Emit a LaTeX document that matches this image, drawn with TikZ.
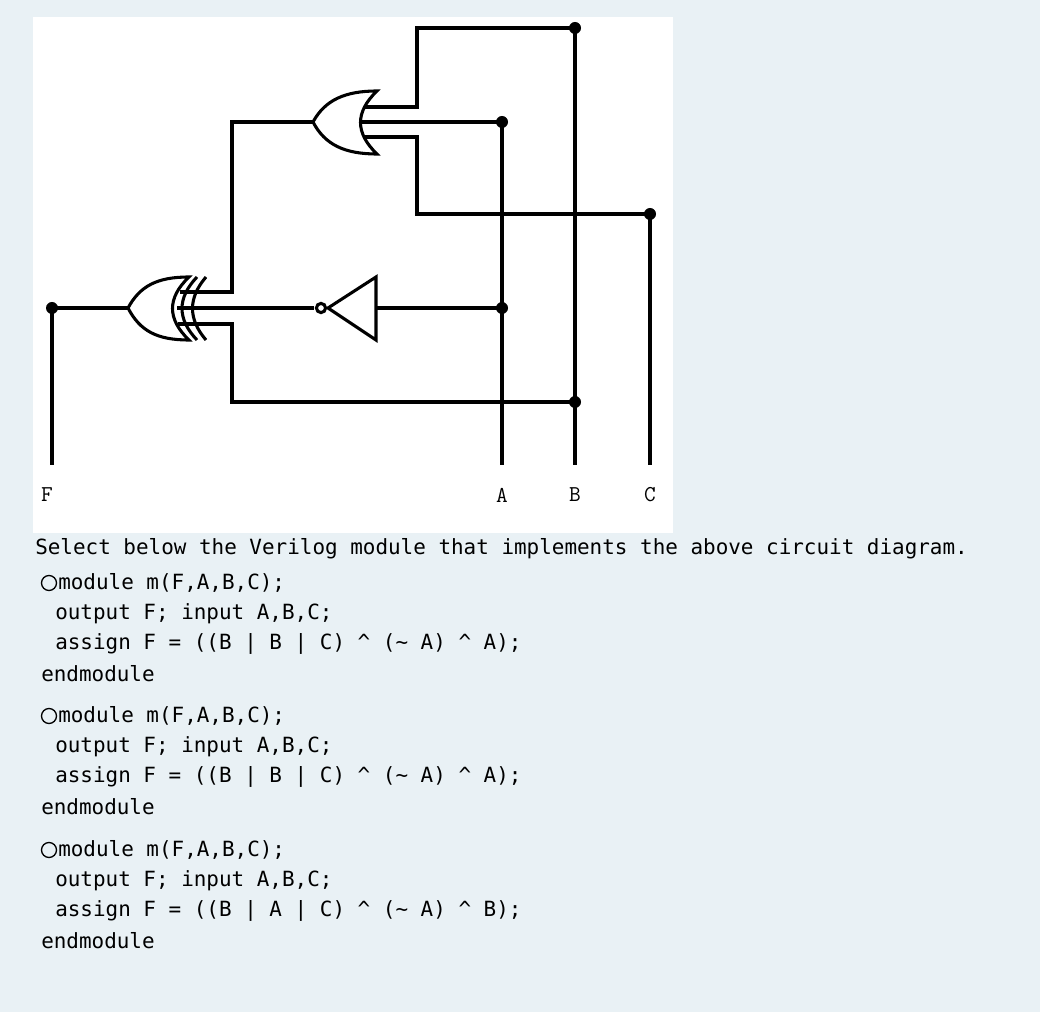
\documentclass[tikz,border=0pt]{standalone}
\usepackage{fontspec}
\setmonofont{DejaVu Sans Mono}
\newfontfamily\cour{Latin Modern Mono}
\definecolor{bg}{HTML}{E9F1F5}
\begin{document}
\begin{tikzpicture}[x=0.75pt,y=-0.75pt,
  w/.style={line width=2.3pt},
  dot/.style={circle,fill=black,inner sep=0,minimum size=9pt},
  lab/.style={font=\cour\fontsize{17}{20}\selectfont,inner sep=0},
  code/.style={font=\ttfamily\fontsize{15.7}{18}\selectfont,anchor=west,inner sep=0}]
\fill[bg] (0,0) rectangle (1040,1012);
\useasboundingbox (0,0) rectangle (1040,1012);
\fill[white] (33,17) rectangle (673,533);
% dots
\node[dot] (tB) at (575,28) {};
\node[dot] (tA) at (502,122) {};
\node[dot] (tC) at (650,214) {};
\node[dot] (mA) at (502,308) {};
\node[dot] (bB) at (575,402) {};
\node[dot] (dF) at (52,308) {};
\coordinate (eA) at (502,465); \coordinate (eB) at (575,465);
\coordinate (eC) at (650,465); \coordinate (eF) at (52,465);
\node[lab] (lF) at (47,495) {F};
\node[lab] (lA) at (502,495) {A};
\node[lab] (lB) at (575,495) {B};
\node[lab] (lC) at (650,495) {C};
\draw[w] (tB.center) -- (eB); \draw[w] (tA.center) -- (eA);
\draw[w] (tC.center) -- (eC); \draw[w] (dF.center) -- (eF);
% OR gate
\draw[w,fill=white] (377,91) .. controls (355,112) and (355,133) .. (377,154)
  .. controls (345,154) and (325,145) .. (313,122)
  .. controls (325,100) and (345,91) .. (377,91) -- cycle;
\coordinate (orO) at (313,122);
\draw[w] (365,107) -| (417,28) -- (tB.center);
\draw[w] (362,122) -- (tA.center);
\draw[w] (365,137) -| (417,214) -- (tC.center);
% XOR gate
\draw[w,fill=white] (189,277) .. controls (167,298) and (167,319) .. (189,340)
  .. controls (157,340) and (140,331) .. (128,308)
  .. controls (140,286) and (157,277) .. (189,277) -- cycle;
\draw[w] (197,277) .. controls (177,298) and (177,319) .. (197,340);
\draw[w] (206,277) .. controls (188,298) and (188,319) .. (206,340);
\draw[w] (180,292) -- (232,292) |- (orO);
\draw[w] (178,324) -- (232,324) |- (bB.center);
% NOT gate
\draw[w] (376,277) -- (376,340) -- (328,308) -- cycle;
\draw[w,fill=white] (321,308) circle (4.6);
\draw[w] (177,308) -- (314,308);
\draw[w] (376,308) -- (mA.center);
\draw[w] (128,308) -- (dF.center);
% text
\node[code] at (35,549) {Select below the Verilog module that implements the above circuit diagram.};
\foreach \y/\e in {583/B | B | C) \string^ (\string~ A) \string^ A, 716/B | B | C) \string^ (\string~ A) \string^ A, 850/B | A | C) \string^ (\string~ A) \string^ B}{
  \draw[line width=1pt] (49,\y) circle (7.5);
  \node[code] at (58,\y) {module m(F,A,B,C);};
  \node[code] at (55,\y+31) {output F; input A,B,C;};
  \node[code] at (55,\y+61) {assign F = ((\e);};
  \node[code] at (41,\y+91) {endmodule};
}
\end{tikzpicture}
\end{document}
